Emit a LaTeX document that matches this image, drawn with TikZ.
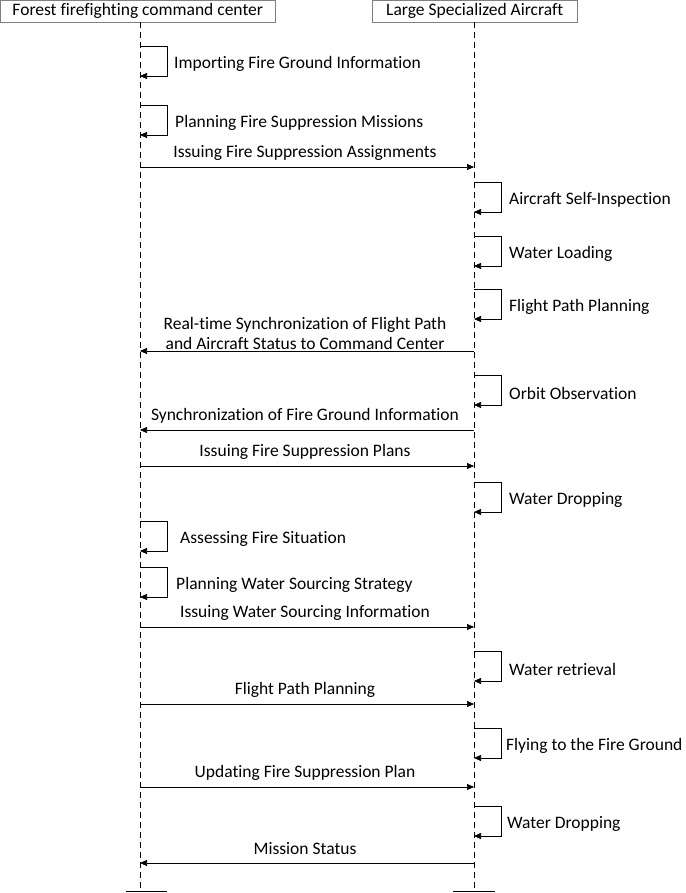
\documentclass[tikz,border=0pt]{standalone}
\usepackage{fontspec}
\setmainfont{Carlito}[Ligatures={NoCommon,NoContextual}]
\usetikzlibrary{arrows.meta}
\tikzset{
  msg/.style={-{Triangle[length=7pt,width=6pt]}, line width=0.7pt},
  lbl/.style={font=\fontsize{17.5}{20}\selectfont, inner sep=0pt},
  life/.style={dashed, dash pattern=on 6pt off 4pt, line width=0.6pt},
  head/.style={draw=black!50, line width=0.5pt, minimum height=22pt, inner sep=0pt, font=\fontsize{17.5}{20}\selectfont}
}
\begin{document}
\begin{tikzpicture}[x=1pt, y=-1pt]
  \useasboundingbox (0,0) rectangle (685,893);
  \node [head, minimum width=275pt, anchor=north west] (cmd) at (0,0) {Forest firefighting command center};
  \node [head, minimum width=205pt, anchor=north west] (air) at (372,0) {Large Specialized Aircraft};
  \coordinate (cmdend) at (140,891);
  \coordinate (airend) at (474,891);
  \draw [life] (140,22) -- (cmdend);
  \draw [life] (474,22) -- (airend);
  \draw [line width=0.8pt] (126,891) -- (167,891);
  \draw [line width=0.8pt] (453,891) -- (495,891);
  % self messages: lifeline x / top y / text x / text
  \foreach \lx/\ty/\tx/\txt [count=\i] in {
      140/46/174/Importing Fire Ground Information,
      140/105/175/Planning Fire Suppression Missions,
      474/182/509/Aircraft Self-Inspection,
      474/236/509/Water Loading,
      474/289/509/Flight Path Planning,
      474/375/509/Orbit Observation,
      474/482/509/Water Dropping,
      140/521/180/Assessing Fire Situation,
      140/567/176/Planning Water Sourcing Strategy,
      474/651/509/Water retrieval,
      474/728/506/Flying to the Fire Ground,
      474/806/507/Water Dropping} {
    \coordinate (s\i a) at (\lx,\ty);
    \coordinate (s\i b) at (\lx,\ty+30);
    \draw [msg] (s\i a) -- ++(27,0) |- (s\i b);
    \node [lbl, anchor=west] (t\i) at (\tx,\ty+18) {\txt};
  }
  % messages between lifelines: y / direction / text
  \foreach \y/\dir/\txt [count=\i] in {
      167/r/Issuing Fire Suppression Assignments,
      430/l/Synchronization of Fire Ground Information,
      466/r/Issuing Fire Suppression Plans,
      627/r/Issuing Water Sourcing Information,
      704/r/Flight Path Planning,
      787/r/Updating Fire Suppression Plan,
      863/l/Mission Status} {
    \coordinate (ml\i) at (140,\y);
    \coordinate (mr\i) at (474,\y);
    \if\dir r
      \draw [msg] (ml\i) -- (mr\i);
    \else
      \draw [msg] (mr\i) -- (ml\i);
    \fi
    \node [lbl] (m\i) at (305,\y-14) {\txt};
  }
  \coordinate (rl) at (140,351);
  \coordinate (rr) at (474,351);
  \draw [msg] (rr) -- (rl);
  \node [lbl, align=center, font=\fontsize{17.5}{20}\selectfont] (rt) at (305,333) {Real-time Synchronization of Flight Path\\and Aircraft Status to Command Center};
\end{tikzpicture}
\end{document}
